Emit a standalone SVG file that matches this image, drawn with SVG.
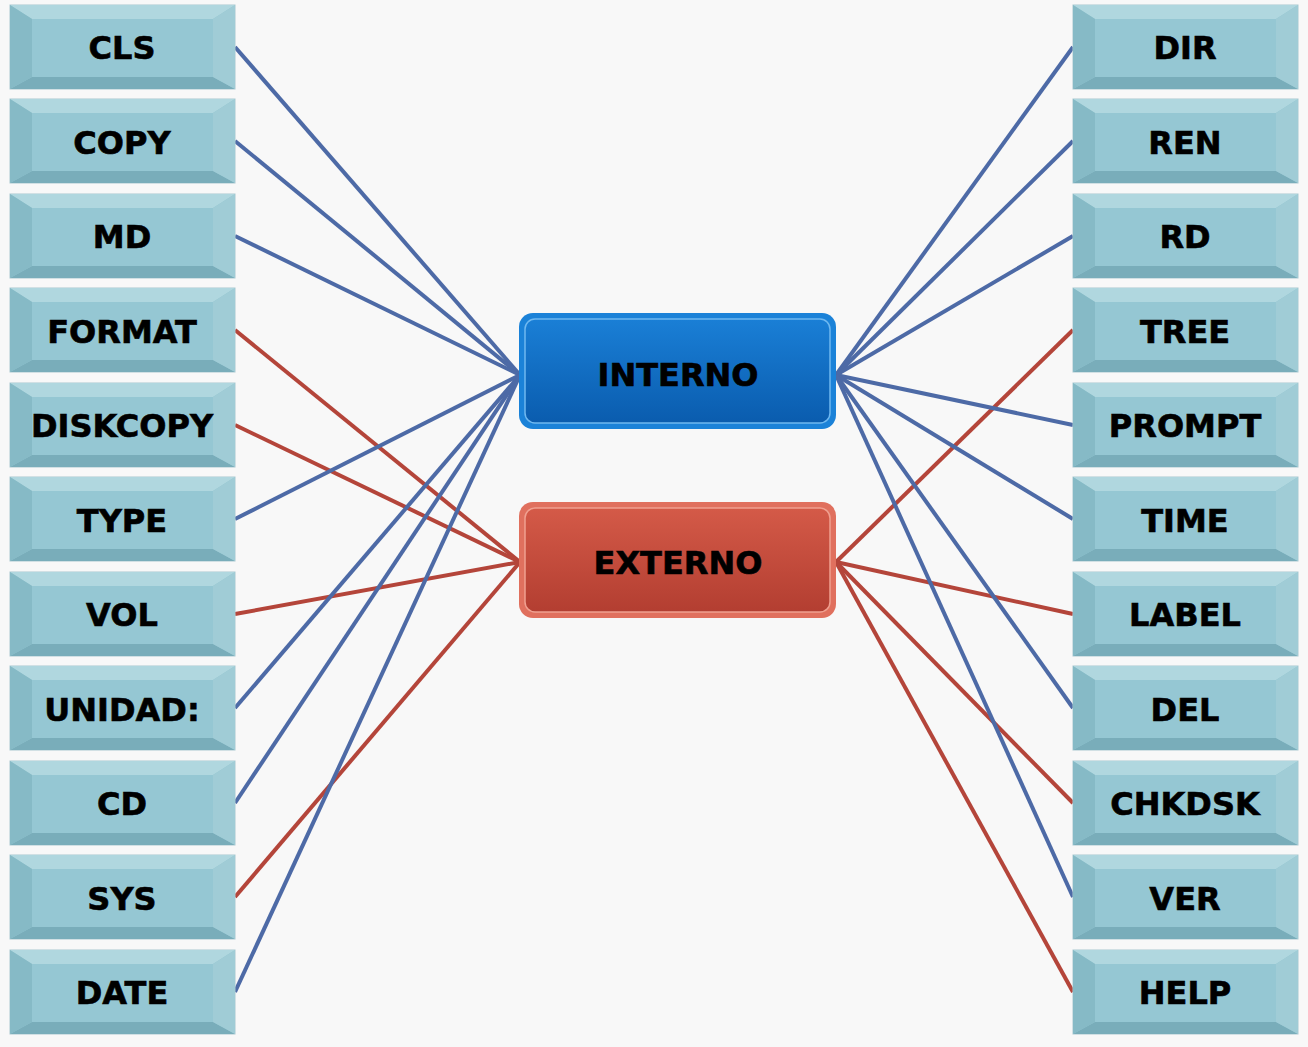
<svg xmlns="http://www.w3.org/2000/svg" xmlns:xlink="http://www.w3.org/1999/xlink" width="1308" height="1047" viewBox="0 0 1308 1047">
<style>
.t{font-family:"DejaVu Sans",sans-serif;font-weight:bold;font-size:32px;fill:#000;text-anchor:middle;stroke:#000;stroke-width:0.6}
.b{stroke:#4d6aa6;stroke-width:4;fill:none}
.r{stroke:#b4453a;stroke-width:4;fill:none}
</style>
<defs>
<linearGradient id="gb" x1="0" y1="0" x2="0" y2="1"><stop offset="0" stop-color="#1a7fd6"/><stop offset="1" stop-color="#0a5cae"/></linearGradient>
<linearGradient id="gr" x1="0" y1="0" x2="0" y2="1"><stop offset="0" stop-color="#d45a48"/><stop offset="1" stop-color="#b33e31"/></linearGradient>
<g id="bx">
<rect x="0" y="0" width="225" height="84" fill="#93c4d0" stroke="#a9c8cf" stroke-width="1"/>
<polygon points="0,0 225,0 203,14 22,14" fill="#b0d7df"/>
<polygon points="0,84 225,84 203,72 22,72" fill="#79adba"/>
<polygon points="0,0 22,14 22,72 0,84" fill="#86bac6"/>
<polygon points="225,0 203,14 203,72 225,84" fill="#a0ccd6"/>
<rect x="22" y="14" width="181" height="58" fill="#95c7d3"/>
</g>
</defs>
<rect width="1308" height="1047" fill="#f8f8f8"/>
<g id="connectors">
<line class="b" x1="235" y1="47" x2="520" y2="375"/>
<line class="b" x1="235" y1="141" x2="520" y2="375"/>
<line class="b" x1="235" y1="236" x2="520" y2="375"/>
<line class="r" x1="235" y1="330" x2="520" y2="562"/>
<line class="r" x1="235" y1="425" x2="520" y2="562"/>
<line class="b" x1="235" y1="519" x2="520" y2="375"/>
<line class="r" x1="235" y1="614" x2="520" y2="562"/>
<line class="b" x1="235" y1="708" x2="520" y2="375"/>
<line class="b" x1="235" y1="803" x2="520" y2="375"/>
<line class="r" x1="235" y1="897" x2="520" y2="562"/>
<line class="b" x1="235" y1="992" x2="520" y2="375"/>
<line class="b" x1="1073" y1="47" x2="836" y2="375"/>
<line class="b" x1="1073" y1="141" x2="836" y2="375"/>
<line class="b" x1="1073" y1="236" x2="836" y2="375"/>
<line class="r" x1="1073" y1="330" x2="836" y2="562"/>
<line class="b" x1="1073" y1="425" x2="836" y2="375"/>
<line class="b" x1="1073" y1="519" x2="836" y2="375"/>
<line class="r" x1="1073" y1="614" x2="836" y2="562"/>
<line class="b" x1="1073" y1="708" x2="836" y2="375"/>
<line class="r" x1="1073" y1="803" x2="836" y2="562"/>
<line class="b" x1="1073" y1="897" x2="836" y2="375"/>
<line class="r" x1="1073" y1="992" x2="836" y2="562"/>
</g>
<g id="interno"><rect x="519" y="313" width="317" height="116" rx="14" fill="#1b82d8"/><rect x="525" y="319" width="305" height="104" rx="10" fill="url(#gb)" stroke="#6fb8f0" stroke-width="1.5"/><text class="t" x="678" y="386">INTERNO</text></g>
<g id="externo"><rect x="519" y="502" width="317" height="116" rx="14" fill="#e0705e"/><rect x="525" y="508" width="305" height="104" rx="10" fill="url(#gr)" stroke="#f0a090" stroke-width="1.5"/><text class="t" x="678" y="574">EXTERNO</text></g>
<g id="cls"><use xlink:href="#bx" x="10" y="5"/><text class="t" x="122" y="59">CLS</text></g>
<g id="copy"><use xlink:href="#bx" x="10" y="99"/><text class="t" x="122" y="154">COPY</text></g>
<g id="md"><use xlink:href="#bx" x="10" y="194"/><text class="t" x="122" y="248">MD</text></g>
<g id="format"><use xlink:href="#bx" x="10" y="288"/><text class="t" x="122" y="343">FORMAT</text></g>
<g id="diskcopy"><use xlink:href="#bx" x="10" y="383"/><text class="t" x="122" y="437">DISKCOPY</text></g>
<g id="type"><use xlink:href="#bx" x="10" y="477"/><text class="t" x="122" y="532">TYPE</text></g>
<g id="vol"><use xlink:href="#bx" x="10" y="572"/><text class="t" x="122" y="626">VOL</text></g>
<g id="unidad"><use xlink:href="#bx" x="10" y="666"/><text class="t" x="122" y="721">UNIDAD:</text></g>
<g id="cd"><use xlink:href="#bx" x="10" y="761"/><text class="t" x="122" y="815">CD</text></g>
<g id="sys"><use xlink:href="#bx" x="10" y="855"/><text class="t" x="122" y="910">SYS</text></g>
<g id="date"><use xlink:href="#bx" x="10" y="950"/><text class="t" x="122" y="1004">DATE</text></g>
<g id="dir"><use xlink:href="#bx" x="1073" y="5"/><text class="t" x="1185" y="59">DIR</text></g>
<g id="ren"><use xlink:href="#bx" x="1073" y="99"/><text class="t" x="1185" y="154">REN</text></g>
<g id="rd"><use xlink:href="#bx" x="1073" y="194"/><text class="t" x="1185" y="248">RD</text></g>
<g id="tree"><use xlink:href="#bx" x="1073" y="288"/><text class="t" x="1185" y="343">TREE</text></g>
<g id="prompt"><use xlink:href="#bx" x="1073" y="383"/><text class="t" x="1185" y="437">PROMPT</text></g>
<g id="time"><use xlink:href="#bx" x="1073" y="477"/><text class="t" x="1185" y="532">TIME</text></g>
<g id="label"><use xlink:href="#bx" x="1073" y="572"/><text class="t" x="1185" y="626">LABEL</text></g>
<g id="del"><use xlink:href="#bx" x="1073" y="666"/><text class="t" x="1185" y="721">DEL</text></g>
<g id="chkdsk"><use xlink:href="#bx" x="1073" y="761"/><text class="t" x="1185" y="815">CHKDSK</text></g>
<g id="ver"><use xlink:href="#bx" x="1073" y="855"/><text class="t" x="1185" y="910">VER</text></g>
<g id="help"><use xlink:href="#bx" x="1073" y="950"/><text class="t" x="1185" y="1004">HELP</text></g>
</svg>
